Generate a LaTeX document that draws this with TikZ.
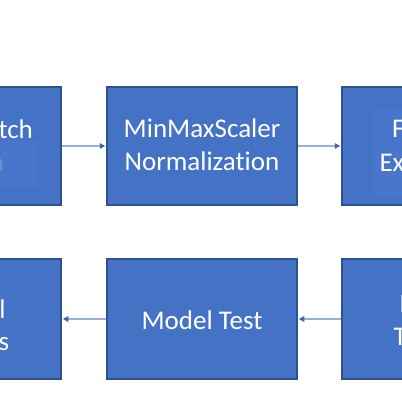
\documentclass[tikz,border=0pt]{standalone}
\usepackage{fontspec}
\setmainfont{Carlito}[Ligatures=NoCommon]
\usetikzlibrary{arrows.meta}
\definecolor{boxfill}{HTML}{4472C4}
\definecolor{boxline}{HTML}{2F528F}
\definecolor{frame}{HTML}{4876CA}
\definecolor{conn}{HTML}{97B0DE}
\definecolor{head}{HTML}{3A66B8}
\definecolor{faint}{HTML}{6A8DD2}
\tikzset{
  box/.style={draw=boxline, fill=boxfill, line width=1.5pt, minimum width=190pt, inner sep=0pt},
  txt/.style={text=white, font=\fontsize{27}{33}\selectfont, inner sep=0pt, anchor=base},
  conn/.style={draw=conn, line width=1.5pt, -{Triangle[length=5.5pt,width=5.5pt,color=head]}, shorten >=1pt}
}
\begin{document}
\begin{tikzpicture}[x=1pt,y=-1pt]
\useasboundingbox (0,0) rectangle (402,402);
\clip (0,0) rectangle (402,402);
\fill[white] (0,0) rectangle (402,402);
% boxes, top row
\node[box, minimum height=118pt] (b1) at (-34,146) {};
\node[box, minimum height=118pt] (b2) at (202,146) {};
\node[box, minimum height=118pt] (b3) at (437,146) {};
% boxes, bottom row
\node[box, minimum height=120pt] (b4) at (-34,319) {};
\node[box, minimum height=120pt] (b5) at (202,319) {};
\node[box, minimum height=120pt] (b6) at (437,319) {};
% faint text frames
\fill[frame] (0,141) rectangle (38,188);
\fill[frame] (375,108) rectangle (410,198);
% texts
\node[txt] (t1a) at (-34,138) {Image Patch};
\node[txt, text=faint] (t1b) at (-39,171) {Division};
\node[txt] (t2a) at (202,137) {MinMaxScaler};
\node[txt] (t2b) at (202,170) {Normalization};
\node[txt] (t3a) at (434,137) {Feature};
\node[txt] (t3b) at (435,171) {Extraction};
\node[txt] (t4a) at (-30,318) {Model};
\node[txt] (t4b) at (-30,350) {Results};
\node[txt] (t5) at (202,329) {Model Test};
\node[txt] (t6a) at (435,312) {Model};
\node[txt] (t6b) at (437,345) {Training};
% connectors
\draw[conn] (b1.east) -- (b2.west);
\draw[conn] (b2.east) -- (b3.west);
\draw[conn] (b5.west) -- (b4.east);
\draw[conn] (b6.west) -- (b5.east);
\end{tikzpicture}
\end{document}
